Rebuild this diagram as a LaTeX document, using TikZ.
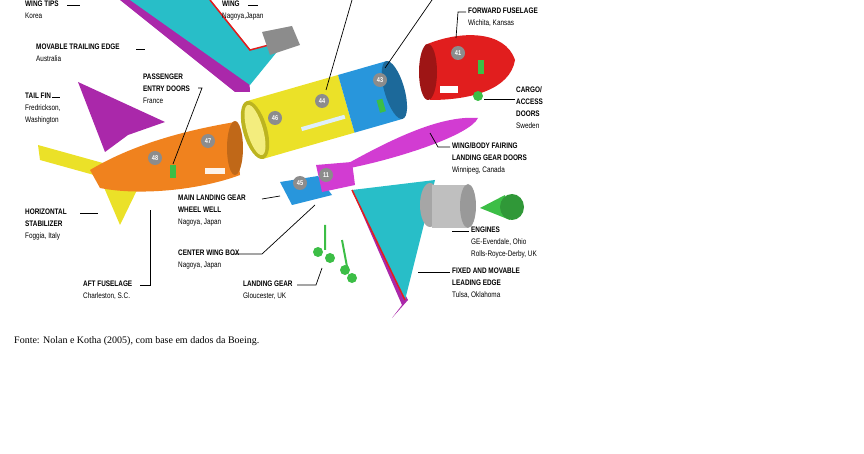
\documentclass[tikz,border=0pt]{standalone}
\usepackage{fontspec}
\setmainfont{Liberation Serif}
\newfontfamily\lbl[FakeStretch=0.8]{Liberation Sans}
\begin{document}
\begin{tikzpicture}[x=1pt,y=-1pt,
  lab/.style={anchor=north west,inner sep=0pt,align=left,font=\lbl\fontsize{8}{12}\selectfont},
  ld/.style={black,line width=0.7pt},
  num/.style={circle,fill=black!45,text=white,inner sep=1pt,minimum size=14pt,font=\lbl\bfseries\fontsize{7}{7}\selectfont}]
\useasboundingbox (0,0) rectangle (864,454);
\definecolor{cy}{RGB}{40,190,200}\definecolor{pu}{RGB}{170,40,170}
\definecolor{ye}{RGB}{235,225,40}\definecolor{bl}{RGB}{40,150,220}
\definecolor{rd}{RGB}{225,30,30}\definecolor{or}{RGB}{240,130,30}
\definecolor{gr}{RGB}{60,190,70}\definecolor{mg}{RGB}{210,60,210}
% top wing
\fill[pu] (120,0) -- (210,0) -- (248,55) -- (250,92) -- (235,92) -- cycle;
\fill[cy] (130,0) -- (210,0) -- (250,50) -- (285,42) -- (250,85) -- cycle;
\draw[rd,line width=1.5pt] (210,0) -- (250,50) -- (288,40);
\fill[black!45] (262,32) -- (292,26) -- (300,45) -- (270,55) -- cycle;
% tail fin
\fill[pu] (78,82) -- (165,122) -- (128,135) -- (105,152) -- cycle;
% horizontal stabilizer
\fill[ye] (38,145) -- (110,165) -- (112,180) -- (40,160) -- cycle;
\fill[ye] (100,178) -- (138,188) -- (120,225) -- cycle;
% aft fuselage
\fill[or] (90,170) .. controls (140,140) and (200,128) .. (235,122) -- (240,175) .. controls (200,190) and (140,196) .. (100,188) -- cycle;
\fill[or!80!black] (235,148) ellipse (8 and 27);
\fill[gr] (170,165) rectangle (176,178);
\fill[white!90!or] (205,168) rectangle (225,174);
% fairing (behind fuselage)
\fill[mg] (345,165) .. controls (390,140) and (440,115) .. (478,118) .. controls (470,135) and (400,158) .. (350,168) -- cycle;
% center fuselage
\begin{scope}[rotate around={16:(255,130)}]
\fill[ye] (255,100) rectangle (350,160);
\fill[bl] (350,100) rectangle (400,160);
\fill[bl!70!black] (400,130) ellipse (10 and 30);
\fill[ye!80!black] (255,130) ellipse (12 and 30);
\fill[ye!60!white] (255,130) ellipse (8 and 26);
\fill[gr] (380,135) rectangle (386,148);
\fill[white!85!bl] (300,140) rectangle (345,144);
\end{scope}
% forward fuselage
\fill[rd] (425,45) .. controls (460,30) and (505,30) .. (515,60) .. controls (510,90) and (470,100) .. (430,100) -- cycle;
\fill[rd!70!black] (428,72) ellipse (9 and 28);
\fill[gr] (478,60) rectangle (484,74);
\fill[white] (440,86) rectangle (458,93);
\fill[gr] (478,96) circle (5);
% wheel well & wing box
\fill[bl] (280,182) -- (318,176) -- (332,195) -- (292,205) -- cycle;
\fill[mg] (316,165) -- (352,162) -- (355,185) -- (322,192) -- cycle;
% bottom wing
\fill[pu] (352,190) -- (402,305) -- (392,318) -- (408,300) -- cycle;
\fill[cy] (352,190) -- (435,180) -- (405,300) -- cycle;
\draw[rd,line width=1.5pt] (352,190) -- (405,300);
% engines
\fill[black!35] (430,205) ellipse (10 and 22);
\fill[black!25] (432,185) rectangle (468,228);
\fill[black!40] (468,206) ellipse (8 and 22);
\fill[gr] (480,208) -- (505,195) -- (510,220) -- cycle;
\fill[gr!80!black] (512,207) ellipse (12 and 13);
% landing gear
\foreach \x/\y in {318/252,330/258,345/270,352/278}{\fill[gr] (\x,\y) circle (5);}
\draw[gr,line width=2pt] (325,225) -- (325,250) (342,240) -- (348,272);
% numbers
\node[num] (n41) at (458,53) {41};
\node[num] (n43) at (380,80) {43};
\node[num] (n44) at (322,101) {44};
\node[num] (n46) at (275,118) {46};
\node[num] (n47) at (208,141) {47};
\node[num] (n48) at (155,158) {48};
\node[num] (n45) at (300,183) {45};
\node[num] (n11) at (326,175) {11};
% labels
\node[lab] (wt) at (25,1) {\textbf{WING TIPS}\\Korea};
\node[lab] (mt) at (36,44) {\textbf{MOVABLE TRAILING EDGE}\\Australia};
\node[lab] (tf) at (25,93) {\textbf{TAIL FIN}\\Fredrickson,\\Washington};
\node[lab] (pd) at (143,74) {\textbf{PASSENGER}\\\textbf{ENTRY DOORS}\\France};
\node[lab] (wg) at (222,1) {\textbf{WING}\\Nagoya,Japan};
\node[lab] (ff) at (468,8) {\textbf{FORWARD FUSELAGE}\\Wichita, Kansas};
\node[lab] (cd) at (516,87) {\textbf{CARGO/}\\\textbf{ACCESS}\\\textbf{DOORS}\\Sweden};
\node[lab] (fa) at (452,143) {\textbf{WING/BODY FAIRING}\\\textbf{LANDING GEAR DOORS}\\Winnipeg, Canada};
\node[lab] (hs) at (25,209) {\textbf{HORIZONTAL}\\\textbf{STABILIZER}\\Foggia, Italy};
\node[lab] (mw) at (178,195) {\textbf{MAIN LANDING GEAR}\\\textbf{WHEEL WELL}\\Nagoya, Japan};
\node[lab] (cw) at (178,250) {\textbf{CENTER WING BOX}\\Nagoya, Japan};
\node[lab] (en) at (471,227) {\textbf{ENGINES}\\GE-Evendale, Ohio\\Rolls-Royce-Derby, UK};
\node[lab] (le) at (452,268) {\textbf{FIXED AND MOVABLE}\\\textbf{LEADING EDGE}\\Tulsa, Oklahoma};
\node[lab] (af) at (83,281) {\textbf{AFT FUSELAGE}\\Charleston, S.C.};
\node[lab] (lg) at (243,281) {\textbf{LANDING GEAR}\\Gloucester, UK};
\node[anchor=west,inner sep=0pt,font=\fontsize{10}{12}\selectfont] (cap) at (14,341) {Fonte: Nolan e Kotha (2005), com base em dados da Boeing.};
% leaders
\coordinate (a1) at (80,5); \draw[ld] (67,5) -- (a1);
\coordinate (a2) at (145,49); \draw[ld] (136,49) -- (a2);
\coordinate (a3) at (60,97); \draw[ld] (52,97) -- (a3);
\draw[ld] (198,88) -- (202,88) -- (173,164);
\draw[ld] (248,5) -- (258,5);
\coordinate (t1) at (352,0); \draw[ld] (t1) -- (326,90);
\coordinate (t2) at (432,0); \draw[ld] (t2) -- (385,68);
\draw[ld] (466,12) -- (458,12) -- (456,38);
\draw[ld] (515,99) -- (484,99);
\draw[ld] (450,147) -- (438,147) -- (430,133);
\draw[ld] (80,213) -- (98,213);
\draw[ld] (262,199) -- (280,196);
\draw[ld] (233,254) -- (262,254) -- (315,205);
\draw[ld] (469,231) -- (452,231);
\draw[ld] (450,272) -- (418,272);
\draw[ld] (140,285) -- (150,285) -- (150,210);
\draw[ld] (297,285) -- (316,285) -- (322,268);
\end{tikzpicture}
\end{document}
